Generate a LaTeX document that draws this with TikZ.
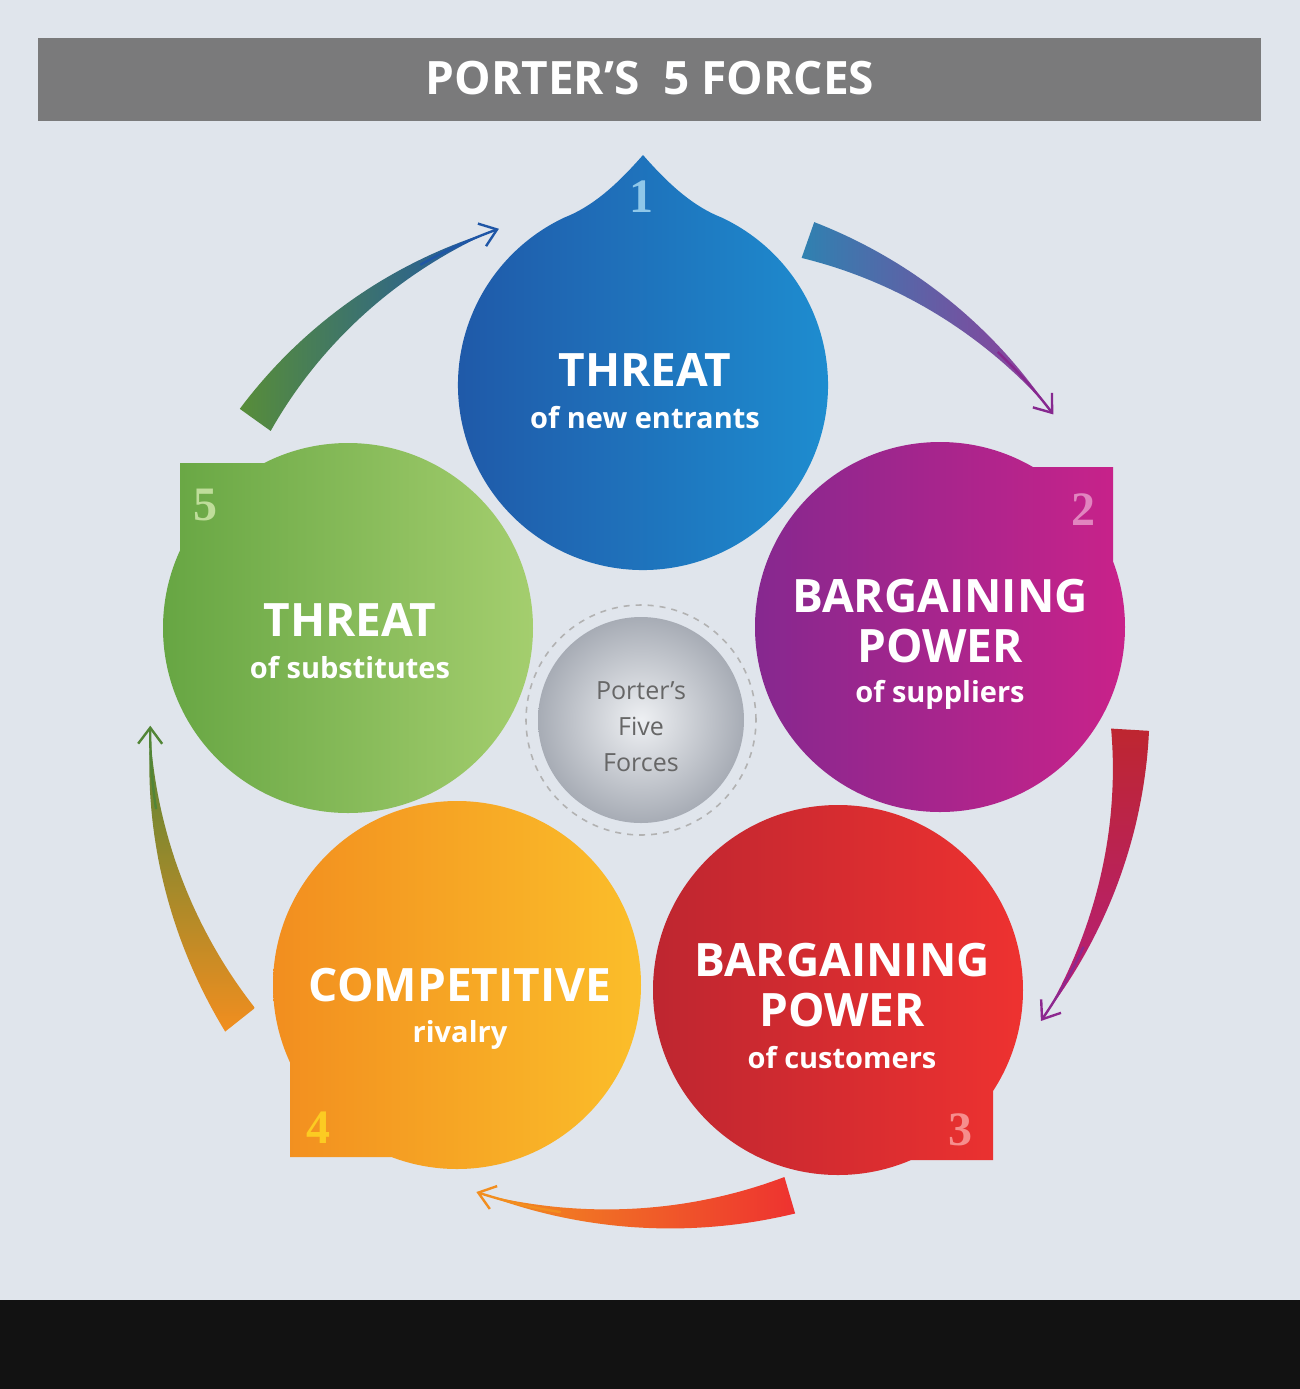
\documentclass[tikz,border=0pt]{standalone}
\usepackage{fontspec}
\setmainfont{Open Sans}
\newfontfamily\numfont{Liberation Serif}
\usetikzlibrary{arrows.meta,calc}
\definecolor{bgc}{HTML}{E0E5EC}
\definecolor{titlegray}{HTML}{7A7A7B}
\definecolor{bluel}{HTML}{1F56A6}\definecolor{bluer}{HTML}{1E90D2}
\definecolor{purl}{HTML}{86288F}\definecolor{purr}{HTML}{C9228A}
\definecolor{redl}{HTML}{BE2630}\definecolor{redr}{HTML}{EE3230}
\definecolor{orl}{HTML}{F28E1F}\definecolor{orr}{HTML}{FBBE2A}
\definecolor{grl}{HTML}{67A643}\definecolor{grr}{HTML}{A4CE6E}
\definecolor{silverin}{HTML}{EEF0F3}\definecolor{silverout}{HTML}{A7ACB5}
\newcommand\forcearrow[6]{%
 \shade[#5] plot[domain=0:1,samples=40,variable=\q] ({645+(#3+(#4-#3)*\q+19*(1-\q))*cos(#1+(#2-#1)*\q)},{-700+(#3+(#4-#3)*\q+19*(1-\q))*sin(#1+(#2-#1)*\q)}) -- plot[domain=1:0,samples=40,variable=\q] ({645+(#3+(#4-#3)*\q-19*(1-\q))*cos(#1+(#2-#1)*\q)},{-700+(#3+(#4-#3)*\q-19*(1-\q))*sin(#1+(#2-#1)*\q)}) -- cycle;
 \draw[#6,line width=1.2pt,-{Straight Barb[length=8pt,width=12pt]}] plot[domain=0.75:1.03,samples=15,variable=\q] ({645+(#3+(#4-#3)*\q)*cos(#1+(#2-#1)*\q)},{-700+(#3+(#4-#3)*\q)*sin(#1+(#2-#1)*\q)});
}
\tikzset{
 big/.style={text=white,font=\bfseries\fontsize{23}{25}\selectfont,align=center},
 small/.style={text=white,font=\bfseries\fontsize{14.5}{17}\selectfont},
 num/.style={font=\numfont\bfseries\fontsize{24}{26}\selectfont},
}
\begin{document}
\begin{tikzpicture}[x=0.5pt,y=0.5pt]
\useasboundingbox (0,0) rectangle (1300,-1389);
\fill[bgc] (0,0) rectangle (1300,-1300);
\fill[black!93] (0,-1300) rectangle (1300,-1389);
\fill[titlegray] (38,-38) rectangle (1261,-121);
\node[text=white,font=\bfseries\fontsize{23}{26}\selectfont] (title) at (650,-78) {PORTER’S\ \ 5 FORCES};
% arrows
\forcearrow{70.5}{36}{488}{498}{left color=bluer!80!black!90,right color=purl!90}{purl}
\forcearrow{-3.5}{-38}{486}{509}{top color=redl,bottom color=purr!90!black}{purl!90!purr}
\forcearrow{-73.7}{-107.9}{516}{520}{left color=orl,right color=redr}{orl}
\forcearrow{218.3}{184}{516}{496}{top color=grl!80!black,bottom color=orl}{grl!80!black}
\forcearrow{144.3}{108.3}{480}{493}{left color=grl!85!black,right color=bluel}{bluel}
% 1 blue teardrop
\shade[left color=bluel,right color=bluer] (643,-155) .. controls (665,-180) and (690,-205) .. ($(643,-385)+(65:185)$) arc[start angle=65,end angle=-245,radius=185] .. controls (596,-205) and (621,-180) .. (643,-155) -- cycle;
% 2 purple
\shade[left color=purl,right color=purr] (940,-627) circle[radius=185] (940,-627) -- (1113,-627) -- (1113,-467) -- (940,-467) -- cycle;
% 3 red
\shade[left color=redl,right color=redr] (838,-990) circle[radius=185] (838,-990) -- (838,-1160) -- (993,-1160) -- (993,-990) -- cycle;
% 4 orange
\shade[left color=orl,right color=orr] (457,-985) circle[radius=184] (457,-985) -- (290,-985) -- (290,-1157) -- (457,-1157) -- cycle;
% 5 green
\shade[left color=grl,right color=grr] (348,-628) circle[radius=185] (348,-628) -- (348,-463) -- (180,-463) -- (180,-628) -- cycle;
% numbers
\node[num,text=bluer!50!white] (n1) at (641,-197) {1};
\node[num,text=purr!55!white] (n2) at (1083,-510) {2};
\node[num,text=redr!55!white] (n3) at (960,-1130) {3};
\node[num,text=orr!80!yellow] (n4) at (318,-1128) {4};
\node[num,text=grr!70!white] (n5) at (205,-505) {5};
% center
\draw[gray!60,dashed,line width=0.8pt] (641,-720) circle[radius=115];
\shade[inner color=silverin,outer color=silverout] (641,-720) circle[radius=103];
\node[text=black!60,font=\fontsize{12.5}{18}\selectfont,align=center] (core) at (641,-727) {Porter’s\\Five\\Forces};
% texts
\node[big] (t1) at (645,-370) {THREAT};
\node[small] (s1) at (645,-418) {of new entrants};
\node[big] (t2) at (940,-621) {BARGAINING\\POWER};
\node[small] (s2) at (940,-695) {of suppliers};
\node[big] (t3) at (842,-985) {BARGAINING\\POWER};
\node[small] (s3) at (842,-1058) {of customers};
\node[big] (t4) at (460,-985) {COMPETITIVE};
\node[small] (s4) at (460,-1035) {rivalry};
\node[big] (t5) at (350,-620) {THREAT};
\node[small] (s5) at (350,-668) {of substitutes};
\end{tikzpicture}
\end{document}
